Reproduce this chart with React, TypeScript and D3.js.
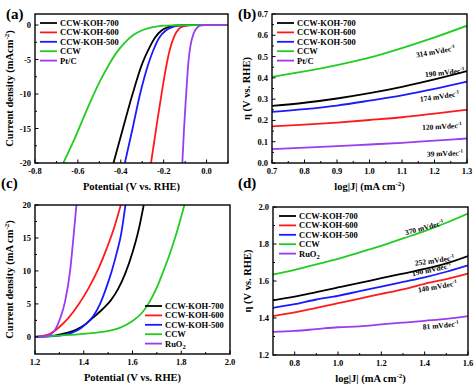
import React from 'react';
import * as d3 from 'd3';

// ---- data ----
const SERIES_HER = ['CCW-KOH-700', 'CCW-KOH-600', 'CCW-KOH-500', 'CCW', 'Pt/C'];
const SERIES_OER = ['CCW-KOH-700', 'CCW-KOH-600', 'CCW-KOH-500', 'CCW', 'RuO2'];
const COLORS = ['#000000', '#ff1a1a', '#1a1aff', '#22cc22', '#9b3cf0'];

// (a) HER polarization, [potential, current]
const herK700 = [[-0.434, -20], [-0.39, -15], [-0.345, -10], [-0.3, -5.6], [-0.27, -3.5], [-0.24, -1.8], [-0.21, -0.8], [-0.18, -0.3], [-0.15, -0.08], [-0.1, 0], [0.1, 0]];
const herK600 = [[-0.259, -20], [-0.235, -15], [-0.21, -10], [-0.185, -5.5], [-0.17, -3.4], [-0.15, -1.6], [-0.13, -0.6], [-0.11, -0.2], [-0.08, -0.03], [-0.05, 0], [0.1, 0]];
const herK500 = [[-0.381, -20], [-0.345, -15], [-0.31, -10], [-0.27, -5.5], [-0.245, -3.4], [-0.22, -1.8], [-0.19, -0.8], [-0.16, -0.3], [-0.13, -0.07], [-0.09, 0], [0.1, 0]];
const herCCW = [[-0.668, -20], [-0.62, -16.8], [-0.58, -13.9], [-0.54, -11], [-0.5, -8.3], [-0.46, -6], [-0.42, -4], [-0.38, -2.5], [-0.34, -1.4], [-0.3, -0.75], [-0.25, -0.3], [-0.2, -0.1], [-0.15, -0.03], [-0.1, 0], [0.1, 0]];
const herPtC = [[-0.113, -20], [-0.105, -15], [-0.095, -10], [-0.085, -5.5], [-0.075, -3], [-0.06, -1.2], [-0.045, -0.4], [-0.03, -0.1], [-0.01, 0], [0.1, 0]];

// (b) HER Tafel, x = 0.7..1.3 step 0.1
const tafelHerX = [0.7, 0.8, 0.9, 1.0, 1.1, 1.2, 1.3];
const tafelHerK700 = [0.268, 0.283, 0.303, 0.328, 0.358, 0.393, 0.432];
const tafelHerK600 = [0.172, 0.18, 0.19, 0.202, 0.215, 0.232, 0.25];
const tafelHerK500 = [0.24, 0.253, 0.27, 0.293, 0.318, 0.348, 0.382];
const tafelHerCCW = [0.405, 0.43, 0.46, 0.495, 0.54, 0.59, 0.645];
const tafelHerPtC = [0.065, 0.072, 0.079, 0.087, 0.095, 0.105, 0.115];
const slopesHer = ['190', '120', '174', '314', '39'];

// (c) OER polarization
const oerK700 = [[1.2, 0], [1.28, 0.2], [1.33, 0.6], [1.37, 1.1], [1.41, 2], [1.447, 3.2], [1.48, 4.3], [1.51, 5.5], [1.54, 7.2], [1.57, 9.6], [1.6, 12.8], [1.625, 16.2], [1.646, 20]];
const oerK600 = [[1.2, 0], [1.25, 0.3], [1.28, 0.9], [1.3, 1.5], [1.34, 3], [1.38, 5], [1.42, 7.4], [1.46, 10.3], [1.495, 13.5], [1.525, 16.6], [1.552, 20]];
const oerK500 = [[1.2, 0], [1.3, 0.2], [1.35, 0.6], [1.38, 1.1], [1.41, 2], [1.44, 3.2], [1.467, 5], [1.49, 7.2], [1.515, 10], [1.535, 12.7], [1.553, 15.5], [1.571, 20]];
const oerCCW = [[1.2, 0], [1.3, 0.2], [1.4, 0.45], [1.5, 0.9], [1.55, 1.4], [1.6, 2.4], [1.64, 3.7], [1.665, 5], [1.7, 7.5], [1.727, 10], [1.755, 12.8], [1.781, 15.8], [1.813, 20]];
const oerRuO2 = [[1.2, 0], [1.25, 0.15], [1.27, 0.5], [1.29, 1.6], [1.305, 3], [1.323, 5.3], [1.344, 10], [1.357, 14.8], [1.37, 20]];

// (d) OER Tafel, x = 0.7..1.6 step 0.1
const tafelOerX = [0.7, 0.8, 0.9, 1.0, 1.1, 1.2, 1.3, 1.4, 1.5, 1.6];
const tafelOerK700 = [1.495, 1.515, 1.54, 1.565, 1.59, 1.615, 1.64, 1.665, 1.695, 1.735];
const tafelOerK600 = [1.41, 1.43, 1.455, 1.48, 1.505, 1.53, 1.555, 1.585, 1.61, 1.64];
const tafelOerK500 = [1.455, 1.475, 1.5, 1.52, 1.545, 1.57, 1.595, 1.62, 1.65, 1.685];
const tafelOerCCW = [1.635, 1.66, 1.69, 1.72, 1.755, 1.79, 1.83, 1.87, 1.915, 1.965];
const tafelOerRuO2 = [1.325, 1.33, 1.34, 1.35, 1.355, 1.365, 1.375, 1.385, 1.395, 1.41];
const slopesOer = ['252', '140', '190', '370', '81'];

const FONT = '"Liberation Serif", "Times New Roman", serif';

type Pt = number[];
type Note = { text: string; x: number; y: number; rot: number };

const zip = (xs: number[], ys: number[]) => xs.map((x, i) => [x, ys[i]]);

function Label({ text }: { text: string }) {
  // handles RuO2 subscript
  if (text === 'RuO2') {
    return (<>RuO<tspan dy={2} fontSize={6.5}>2</tspan></>);
  }
  return <>{text}</>;
}

function Panel(props: {
  id: string;
  box: [number, number, number, number];
  xDom: [number, number];
  yDom: [number, number];
  xTicks: number[];
  xMinor: number[];
  yTicks: number[];
  yMinor: number[];
  fx: (v: number) => string;
  fy: (v: number) => string;
  series: Pt[][];
  names: string[];
  legend: [number, number];
  notes?: Note[];
  tag: string;
  tagPos: [number, number];
  xTitle: React.ReactNode;
  yTitle: React.ReactNode;
}) {
  const [l, t, r, b] = props.box;
  const x = d3.scaleLinear().domain(props.xDom).range([l, r]);
  const y = d3.scaleLinear().domain(props.yDom).range([b, t]);
  const line = d3.line<Pt>().x(d => x(d[0])).y(d => y(d[1])).curve(d3.curveMonotoneX);
  const clip = 'clip-' + props.id;
  return (
    <g fontFamily={FONT} fontWeight="bold">
      <defs>
        <clipPath id={clip}><rect x={l} y={t} width={r - l} height={b - t} /></clipPath>
      </defs>
      <g clipPath={`url(#${clip})`}>
        {props.series.map((s, i) => (
          <path key={i} d={line(s) || ''} fill="none" stroke={COLORS[i]} strokeWidth={1.8} />
        ))}
      </g>
      <rect x={l} y={t} width={r - l} height={b - t} fill="none" stroke="#000" strokeWidth={1.4} />
      {props.xTicks.map(v => (
        <g key={'xt' + v}>
          <line x1={x(v)} x2={x(v)} y1={b} y2={b - 3.5} stroke="#000" strokeWidth={1} />
          <text x={x(v)} y={b + 11} fontSize={8.5} textAnchor="middle">{props.fx(v)}</text>
        </g>
      ))}
      {props.xMinor.map(v => (
        <line key={'xm' + v} x1={x(v)} x2={x(v)} y1={b} y2={b - 2} stroke="#000" strokeWidth={1} />
      ))}
      {props.yTicks.map(v => (
        <g key={'yt' + v}>
          <line x1={l} x2={l + 3.5} y1={y(v)} y2={y(v)} stroke="#000" strokeWidth={1} />
          <text x={l - 4} y={y(v) + 3} fontSize={8.5} textAnchor="end">{props.fy(v)}</text>
        </g>
      ))}
      {props.yMinor.map(v => (
        <line key={'ym' + v} x1={l} x2={l + 2} y1={y(v)} y2={y(v)} stroke="#000" strokeWidth={1} />
      ))}
      {props.names.map((n, i) => {
        const ly = props.legend[1] + i * 9.4;
        return (
          <g key={'lg' + i}>
            <line x1={props.legend[0]} x2={props.legend[0] + 17} y1={ly} y2={ly} stroke={COLORS[i]} strokeWidth={1.8} />
            <text x={props.legend[0] + 20} y={ly + 3} fontSize={8.5}><Label text={n} /></text>
          </g>
        );
      })}
      {(props.notes || []).map((n, i) => (
        <text key={'nt' + i} transform={`translate(${n.x},${n.y}) rotate(${n.rot})`} fontSize={7.5} textAnchor="middle">
          {n.text} mVdec<tspan dy={-3} fontSize={5}>-1</tspan>
        </text>
      ))}
      <text x={(l + r) / 2} y={b + 27} fontSize={10.5} textAnchor="middle">{props.xTitle}</text>
      <text transform={`translate(${l - 22},${(t + b) / 2}) rotate(-90)`} fontSize={10.5} textAnchor="middle">{props.yTitle}</text>
      <text x={props.tagPos[0]} y={props.tagPos[1]} fontSize={15}>{props.tag}</text>
    </g>
  );
}

export default function App() {
  const range = (a: number, b: number, s: number) => d3.range(a, b + s / 2, s).map(v => +v.toFixed(3));
  return (
    <svg width={474} height={387} style={{ position: 'absolute', left: 0, top: 0, background: '#fff' }}>
      <Panel
        id="a" box={[35, 14, 228, 163]} xDom={[-0.8, 0.1]} yDom={[-20, 1.6]}
        xTicks={range(-0.8, 0, 0.2)} xMinor={range(-0.7, 0.1, 0.2)}
        yTicks={range(-20, 0, 5)} yMinor={range(-17.5, 0, 5)}
        fx={v => v.toFixed(1)} fy={v => String(v)}
        series={[herK700, herK600, herK500, herCCW, herPtC]} names={SERIES_HER}
        legend={[40, 23]} tag="(a)" tagPos={[6, 19]}
        xTitle="Potential (V vs. RHE)"
        yTitle={<>Current density (mAcm<tspan dy={-4} fontSize={7}>-2</tspan><tspan dy={4}>)</tspan></>}
      />
      <Panel
        id="b" box={[272, 14, 467, 163]} xDom={[0.7, 1.3]} yDom={[0, 0.7]}
        xTicks={range(0.7, 1.3, 0.1)} xMinor={range(0.75, 1.25, 0.1)}
        yTicks={range(0, 0.7, 0.1)} yMinor={range(0.05, 0.65, 0.1)}
        fx={v => v.toFixed(1)} fy={v => v.toFixed(1)}
        series={[zip(tafelHerX, tafelHerK700), zip(tafelHerX, tafelHerK600), zip(tafelHerX, tafelHerK500), zip(tafelHerX, tafelHerCCW), zip(tafelHerX, tafelHerPtC)]}
        names={SERIES_HER} legend={[277, 23]} tag="(b)" tagPos={[238, 19]}
        notes={[
          { text: slopesHer[3], x: 436, y: 54, rot: -10 },
          { text: slopesHer[0], x: 445, y: 75, rot: -6 },
          { text: slopesHer[2], x: 440, y: 99, rot: -8 },
          { text: slopesHer[1], x: 442, y: 129, rot: -3 },
          { text: slopesHer[4], x: 445, y: 156, rot: -2 },
        ]}
        xTitle={<>log|J| (mA cm<tspan dy={-4} fontSize={7}>-2</tspan><tspan dy={4}>)</tspan></>}
        yTitle="η (V vs. RHE)"
      />
      <Panel
        id="c" box={[35, 205, 230, 354]} xDom={[1.2, 2.0]} yDom={[-2.6, 20]}
        xTicks={range(1.2, 2.0, 0.2)} xMinor={range(1.3, 1.9, 0.2)}
        yTicks={range(0, 20, 5)} yMinor={range(2.5, 17.5, 5)}
        fx={v => v.toFixed(1)} fy={v => String(v)}
        series={[oerK700, oerK600, oerK500, oerCCW, oerRuO2]} names={SERIES_OER}
        legend={[145, 306]} tag="(c)" tagPos={[1, 188]}
        xTitle="Potential (V vs. RHE)"
        yTitle={<>Current density (mA cm<tspan dy={-4} fontSize={7}>-2</tspan><tspan dy={4}>)</tspan></>}
      />
      <Panel
        id="d" box={[273, 207, 468, 355]} xDom={[0.7, 1.6]} yDom={[1.2, 2.0]}
        xTicks={range(0.8, 1.6, 0.2)} xMinor={range(0.9, 1.5, 0.2)}
        yTicks={range(1.2, 2.0, 0.2)} yMinor={range(1.3, 1.9, 0.2)}
        fx={v => v.toFixed(1)} fy={v => v.toFixed(1)}
        series={[zip(tafelOerX, tafelOerK700), zip(tafelOerX, tafelOerK600), zip(tafelOerX, tafelOerK500), zip(tafelOerX, tafelOerCCW), zip(tafelOerX, tafelOerRuO2)]}
        names={SERIES_OER} legend={[279, 216]} tag="(d)" tagPos={[238, 188]}
        notes={[
          { text: slopesOer[3], x: 425, y: 230, rot: -15 },
          { text: slopesOer[0], x: 435, y: 263, rot: -8 },
          { text: slopesOer[2], x: 432, y: 272, rot: -12 },
          { text: slopesOer[1], x: 438, y: 289, rot: -10 },
          { text: slopesOer[4], x: 441, y: 328, rot: -5 },
        ]}
        xTitle={<>log|J| (mA cm<tspan dy={-4} fontSize={7}>-2</tspan><tspan dy={4}>)</tspan></>}
        yTitle="η (V vs. RHE)"
      />
    </svg>
  );
}
